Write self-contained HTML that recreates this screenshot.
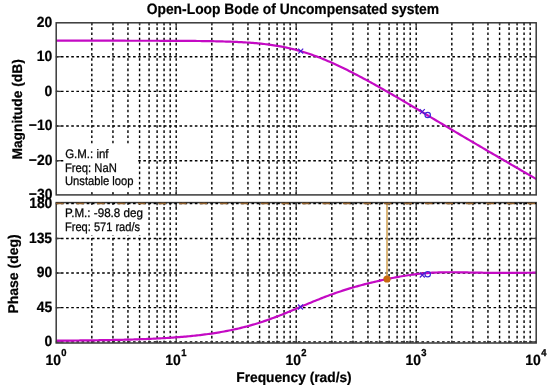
<!DOCTYPE html>
<html><head><meta charset="utf-8"><title>Open-Loop Bode of Uncompensated system</title>
<style>html,body{margin:0;padding:0;background:#fff;width:550px;height:390px;overflow:hidden}svg{display:block}text{text-rendering:geometricPrecision}</style>
</head><body>
<svg width="550" height="390" viewBox="0 0 550 390">
<g stroke="#000000" stroke-width="1.4" stroke-dasharray="2.6 2.55" fill="none">
<line x1="91.82" y1="22.20" x2="91.82" y2="194.90"/>
<line x1="112.95" y1="22.20" x2="112.95" y2="194.90"/>
<line x1="127.95" y1="22.20" x2="127.95" y2="194.90"/>
<line x1="139.58" y1="22.20" x2="139.58" y2="194.90"/>
<line x1="149.08" y1="22.20" x2="149.08" y2="194.90"/>
<line x1="157.11" y1="22.20" x2="157.11" y2="194.90"/>
<line x1="164.07" y1="22.20" x2="164.07" y2="194.90"/>
<line x1="170.21" y1="22.20" x2="170.21" y2="194.90"/>
<line x1="176.20" y1="22.20" x2="176.20" y2="194.90"/>
<line x1="211.82" y1="22.20" x2="211.82" y2="194.90"/>
<line x1="232.95" y1="22.20" x2="232.95" y2="194.90"/>
<line x1="247.95" y1="22.20" x2="247.95" y2="194.90"/>
<line x1="259.58" y1="22.20" x2="259.58" y2="194.90"/>
<line x1="269.08" y1="22.20" x2="269.08" y2="194.90"/>
<line x1="277.11" y1="22.20" x2="277.11" y2="194.90"/>
<line x1="284.07" y1="22.20" x2="284.07" y2="194.90"/>
<line x1="290.21" y1="22.20" x2="290.21" y2="194.90"/>
<line x1="296.20" y1="22.20" x2="296.20" y2="194.90"/>
<line x1="331.82" y1="22.20" x2="331.82" y2="194.90"/>
<line x1="352.95" y1="22.20" x2="352.95" y2="194.90"/>
<line x1="367.95" y1="22.20" x2="367.95" y2="194.90"/>
<line x1="379.58" y1="22.20" x2="379.58" y2="194.90"/>
<line x1="389.08" y1="22.20" x2="389.08" y2="194.90"/>
<line x1="397.11" y1="22.20" x2="397.11" y2="194.90"/>
<line x1="404.07" y1="22.20" x2="404.07" y2="194.90"/>
<line x1="410.21" y1="22.20" x2="410.21" y2="194.90"/>
<line x1="416.20" y1="22.20" x2="416.20" y2="194.90"/>
<line x1="451.82" y1="22.20" x2="451.82" y2="194.90"/>
<line x1="472.95" y1="22.20" x2="472.95" y2="194.90"/>
<line x1="487.95" y1="22.20" x2="487.95" y2="194.90"/>
<line x1="499.58" y1="22.20" x2="499.58" y2="194.90"/>
<line x1="509.08" y1="22.20" x2="509.08" y2="194.90"/>
<line x1="517.11" y1="22.20" x2="517.11" y2="194.90"/>
<line x1="524.07" y1="22.20" x2="524.07" y2="194.90"/>
<line x1="530.21" y1="22.20" x2="530.21" y2="194.90"/>
<line x1="55.8" y1="56.75" x2="536.20" y2="56.75"/>
<line x1="55.8" y1="91.40" x2="536.20" y2="91.40"/>
<line x1="55.8" y1="126.05" x2="536.20" y2="126.05"/>
<line x1="55.8" y1="160.70" x2="536.20" y2="160.70"/>
<line x1="91.82" y1="201.90" x2="91.82" y2="343.00"/>
<line x1="112.95" y1="201.90" x2="112.95" y2="343.00"/>
<line x1="127.95" y1="201.90" x2="127.95" y2="343.00"/>
<line x1="139.58" y1="201.90" x2="139.58" y2="343.00"/>
<line x1="149.08" y1="201.90" x2="149.08" y2="343.00"/>
<line x1="157.11" y1="201.90" x2="157.11" y2="343.00"/>
<line x1="164.07" y1="201.90" x2="164.07" y2="343.00"/>
<line x1="170.21" y1="201.90" x2="170.21" y2="343.00"/>
<line x1="176.20" y1="201.90" x2="176.20" y2="343.00"/>
<line x1="211.82" y1="201.90" x2="211.82" y2="343.00"/>
<line x1="232.95" y1="201.90" x2="232.95" y2="343.00"/>
<line x1="247.95" y1="201.90" x2="247.95" y2="343.00"/>
<line x1="259.58" y1="201.90" x2="259.58" y2="343.00"/>
<line x1="269.08" y1="201.90" x2="269.08" y2="343.00"/>
<line x1="277.11" y1="201.90" x2="277.11" y2="343.00"/>
<line x1="284.07" y1="201.90" x2="284.07" y2="343.00"/>
<line x1="290.21" y1="201.90" x2="290.21" y2="343.00"/>
<line x1="296.20" y1="201.90" x2="296.20" y2="343.00"/>
<line x1="331.82" y1="201.90" x2="331.82" y2="343.00"/>
<line x1="352.95" y1="201.90" x2="352.95" y2="343.00"/>
<line x1="367.95" y1="201.90" x2="367.95" y2="343.00"/>
<line x1="379.58" y1="201.90" x2="379.58" y2="343.00"/>
<line x1="389.08" y1="201.90" x2="389.08" y2="343.00"/>
<line x1="397.11" y1="201.90" x2="397.11" y2="343.00"/>
<line x1="404.07" y1="201.90" x2="404.07" y2="343.00"/>
<line x1="410.21" y1="201.90" x2="410.21" y2="343.00"/>
<line x1="416.20" y1="201.90" x2="416.20" y2="343.00"/>
<line x1="451.82" y1="201.90" x2="451.82" y2="343.00"/>
<line x1="472.95" y1="201.90" x2="472.95" y2="343.00"/>
<line x1="487.95" y1="201.90" x2="487.95" y2="343.00"/>
<line x1="499.58" y1="201.90" x2="499.58" y2="343.00"/>
<line x1="509.08" y1="201.90" x2="509.08" y2="343.00"/>
<line x1="517.11" y1="201.90" x2="517.11" y2="343.00"/>
<line x1="524.07" y1="201.90" x2="524.07" y2="343.00"/>
<line x1="530.21" y1="201.90" x2="530.21" y2="343.00"/>
<line x1="55.8" y1="238.44" x2="536.20" y2="238.44"/>
<line x1="55.8" y1="273.04" x2="536.20" y2="273.04"/>
<line x1="55.8" y1="307.64" x2="536.20" y2="307.64"/>
<line x1="55.8" y1="341.90" x2="536.20" y2="341.90"/>
</g>
<g stroke="#3a3a3a" stroke-width="1.3" fill="none">
<line x1="91.82" y1="22.80" x2="91.82" y2="25.40"/>
<line x1="91.82" y1="194.90" x2="91.82" y2="192.30"/>
<line x1="112.95" y1="22.80" x2="112.95" y2="25.40"/>
<line x1="112.95" y1="194.90" x2="112.95" y2="192.30"/>
<line x1="127.95" y1="22.80" x2="127.95" y2="25.40"/>
<line x1="127.95" y1="194.90" x2="127.95" y2="192.30"/>
<line x1="139.58" y1="22.80" x2="139.58" y2="25.40"/>
<line x1="139.58" y1="194.90" x2="139.58" y2="192.30"/>
<line x1="149.08" y1="22.80" x2="149.08" y2="25.40"/>
<line x1="149.08" y1="194.90" x2="149.08" y2="192.30"/>
<line x1="157.11" y1="22.80" x2="157.11" y2="25.40"/>
<line x1="157.11" y1="194.90" x2="157.11" y2="192.30"/>
<line x1="164.07" y1="22.80" x2="164.07" y2="25.40"/>
<line x1="164.07" y1="194.90" x2="164.07" y2="192.30"/>
<line x1="170.21" y1="22.80" x2="170.21" y2="25.40"/>
<line x1="170.21" y1="194.90" x2="170.21" y2="192.30"/>
<line x1="176.20" y1="22.80" x2="176.20" y2="27.60"/>
<line x1="176.20" y1="194.90" x2="176.20" y2="190.10"/>
<line x1="211.82" y1="22.80" x2="211.82" y2="25.40"/>
<line x1="211.82" y1="194.90" x2="211.82" y2="192.30"/>
<line x1="232.95" y1="22.80" x2="232.95" y2="25.40"/>
<line x1="232.95" y1="194.90" x2="232.95" y2="192.30"/>
<line x1="247.95" y1="22.80" x2="247.95" y2="25.40"/>
<line x1="247.95" y1="194.90" x2="247.95" y2="192.30"/>
<line x1="259.58" y1="22.80" x2="259.58" y2="25.40"/>
<line x1="259.58" y1="194.90" x2="259.58" y2="192.30"/>
<line x1="269.08" y1="22.80" x2="269.08" y2="25.40"/>
<line x1="269.08" y1="194.90" x2="269.08" y2="192.30"/>
<line x1="277.11" y1="22.80" x2="277.11" y2="25.40"/>
<line x1="277.11" y1="194.90" x2="277.11" y2="192.30"/>
<line x1="284.07" y1="22.80" x2="284.07" y2="25.40"/>
<line x1="284.07" y1="194.90" x2="284.07" y2="192.30"/>
<line x1="290.21" y1="22.80" x2="290.21" y2="25.40"/>
<line x1="290.21" y1="194.90" x2="290.21" y2="192.30"/>
<line x1="296.20" y1="22.80" x2="296.20" y2="27.60"/>
<line x1="296.20" y1="194.90" x2="296.20" y2="190.10"/>
<line x1="331.82" y1="22.80" x2="331.82" y2="25.40"/>
<line x1="331.82" y1="194.90" x2="331.82" y2="192.30"/>
<line x1="352.95" y1="22.80" x2="352.95" y2="25.40"/>
<line x1="352.95" y1="194.90" x2="352.95" y2="192.30"/>
<line x1="367.95" y1="22.80" x2="367.95" y2="25.40"/>
<line x1="367.95" y1="194.90" x2="367.95" y2="192.30"/>
<line x1="379.58" y1="22.80" x2="379.58" y2="25.40"/>
<line x1="379.58" y1="194.90" x2="379.58" y2="192.30"/>
<line x1="389.08" y1="22.80" x2="389.08" y2="25.40"/>
<line x1="389.08" y1="194.90" x2="389.08" y2="192.30"/>
<line x1="397.11" y1="22.80" x2="397.11" y2="25.40"/>
<line x1="397.11" y1="194.90" x2="397.11" y2="192.30"/>
<line x1="404.07" y1="22.80" x2="404.07" y2="25.40"/>
<line x1="404.07" y1="194.90" x2="404.07" y2="192.30"/>
<line x1="410.21" y1="22.80" x2="410.21" y2="25.40"/>
<line x1="410.21" y1="194.90" x2="410.21" y2="192.30"/>
<line x1="416.20" y1="22.80" x2="416.20" y2="27.60"/>
<line x1="416.20" y1="194.90" x2="416.20" y2="190.10"/>
<line x1="451.82" y1="22.80" x2="451.82" y2="25.40"/>
<line x1="451.82" y1="194.90" x2="451.82" y2="192.30"/>
<line x1="472.95" y1="22.80" x2="472.95" y2="25.40"/>
<line x1="472.95" y1="194.90" x2="472.95" y2="192.30"/>
<line x1="487.95" y1="22.80" x2="487.95" y2="25.40"/>
<line x1="487.95" y1="194.90" x2="487.95" y2="192.30"/>
<line x1="499.58" y1="22.80" x2="499.58" y2="25.40"/>
<line x1="499.58" y1="194.90" x2="499.58" y2="192.30"/>
<line x1="509.08" y1="22.80" x2="509.08" y2="25.40"/>
<line x1="509.08" y1="194.90" x2="509.08" y2="192.30"/>
<line x1="517.11" y1="22.80" x2="517.11" y2="25.40"/>
<line x1="517.11" y1="194.90" x2="517.11" y2="192.30"/>
<line x1="524.07" y1="22.80" x2="524.07" y2="25.40"/>
<line x1="524.07" y1="194.90" x2="524.07" y2="192.30"/>
<line x1="530.21" y1="22.80" x2="530.21" y2="25.40"/>
<line x1="530.21" y1="194.90" x2="530.21" y2="192.30"/>
<line x1="56.20" y1="56.75" x2="61.00" y2="56.75"/>
<line x1="536.20" y1="56.75" x2="531.40" y2="56.75"/>
<line x1="56.20" y1="91.40" x2="61.00" y2="91.40"/>
<line x1="536.20" y1="91.40" x2="531.40" y2="91.40"/>
<line x1="56.20" y1="126.05" x2="61.00" y2="126.05"/>
<line x1="536.20" y1="126.05" x2="531.40" y2="126.05"/>
<line x1="56.20" y1="160.70" x2="61.00" y2="160.70"/>
<line x1="536.20" y1="160.70" x2="531.40" y2="160.70"/>
<line x1="91.82" y1="202.60" x2="91.82" y2="205.20"/>
<line x1="91.82" y1="343.00" x2="91.82" y2="340.40"/>
<line x1="112.95" y1="202.60" x2="112.95" y2="205.20"/>
<line x1="112.95" y1="343.00" x2="112.95" y2="340.40"/>
<line x1="127.95" y1="202.60" x2="127.95" y2="205.20"/>
<line x1="127.95" y1="343.00" x2="127.95" y2="340.40"/>
<line x1="139.58" y1="202.60" x2="139.58" y2="205.20"/>
<line x1="139.58" y1="343.00" x2="139.58" y2="340.40"/>
<line x1="149.08" y1="202.60" x2="149.08" y2="205.20"/>
<line x1="149.08" y1="343.00" x2="149.08" y2="340.40"/>
<line x1="157.11" y1="202.60" x2="157.11" y2="205.20"/>
<line x1="157.11" y1="343.00" x2="157.11" y2="340.40"/>
<line x1="164.07" y1="202.60" x2="164.07" y2="205.20"/>
<line x1="164.07" y1="343.00" x2="164.07" y2="340.40"/>
<line x1="170.21" y1="202.60" x2="170.21" y2="205.20"/>
<line x1="170.21" y1="343.00" x2="170.21" y2="340.40"/>
<line x1="176.20" y1="202.60" x2="176.20" y2="207.40"/>
<line x1="176.20" y1="343.00" x2="176.20" y2="338.20"/>
<line x1="211.82" y1="202.60" x2="211.82" y2="205.20"/>
<line x1="211.82" y1="343.00" x2="211.82" y2="340.40"/>
<line x1="232.95" y1="202.60" x2="232.95" y2="205.20"/>
<line x1="232.95" y1="343.00" x2="232.95" y2="340.40"/>
<line x1="247.95" y1="202.60" x2="247.95" y2="205.20"/>
<line x1="247.95" y1="343.00" x2="247.95" y2="340.40"/>
<line x1="259.58" y1="202.60" x2="259.58" y2="205.20"/>
<line x1="259.58" y1="343.00" x2="259.58" y2="340.40"/>
<line x1="269.08" y1="202.60" x2="269.08" y2="205.20"/>
<line x1="269.08" y1="343.00" x2="269.08" y2="340.40"/>
<line x1="277.11" y1="202.60" x2="277.11" y2="205.20"/>
<line x1="277.11" y1="343.00" x2="277.11" y2="340.40"/>
<line x1="284.07" y1="202.60" x2="284.07" y2="205.20"/>
<line x1="284.07" y1="343.00" x2="284.07" y2="340.40"/>
<line x1="290.21" y1="202.60" x2="290.21" y2="205.20"/>
<line x1="290.21" y1="343.00" x2="290.21" y2="340.40"/>
<line x1="296.20" y1="202.60" x2="296.20" y2="207.40"/>
<line x1="296.20" y1="343.00" x2="296.20" y2="338.20"/>
<line x1="331.82" y1="202.60" x2="331.82" y2="205.20"/>
<line x1="331.82" y1="343.00" x2="331.82" y2="340.40"/>
<line x1="352.95" y1="202.60" x2="352.95" y2="205.20"/>
<line x1="352.95" y1="343.00" x2="352.95" y2="340.40"/>
<line x1="367.95" y1="202.60" x2="367.95" y2="205.20"/>
<line x1="367.95" y1="343.00" x2="367.95" y2="340.40"/>
<line x1="379.58" y1="202.60" x2="379.58" y2="205.20"/>
<line x1="379.58" y1="343.00" x2="379.58" y2="340.40"/>
<line x1="389.08" y1="202.60" x2="389.08" y2="205.20"/>
<line x1="389.08" y1="343.00" x2="389.08" y2="340.40"/>
<line x1="397.11" y1="202.60" x2="397.11" y2="205.20"/>
<line x1="397.11" y1="343.00" x2="397.11" y2="340.40"/>
<line x1="404.07" y1="202.60" x2="404.07" y2="205.20"/>
<line x1="404.07" y1="343.00" x2="404.07" y2="340.40"/>
<line x1="410.21" y1="202.60" x2="410.21" y2="205.20"/>
<line x1="410.21" y1="343.00" x2="410.21" y2="340.40"/>
<line x1="416.20" y1="202.60" x2="416.20" y2="207.40"/>
<line x1="416.20" y1="343.00" x2="416.20" y2="338.20"/>
<line x1="451.82" y1="202.60" x2="451.82" y2="205.20"/>
<line x1="451.82" y1="343.00" x2="451.82" y2="340.40"/>
<line x1="472.95" y1="202.60" x2="472.95" y2="205.20"/>
<line x1="472.95" y1="343.00" x2="472.95" y2="340.40"/>
<line x1="487.95" y1="202.60" x2="487.95" y2="205.20"/>
<line x1="487.95" y1="343.00" x2="487.95" y2="340.40"/>
<line x1="499.58" y1="202.60" x2="499.58" y2="205.20"/>
<line x1="499.58" y1="343.00" x2="499.58" y2="340.40"/>
<line x1="509.08" y1="202.60" x2="509.08" y2="205.20"/>
<line x1="509.08" y1="343.00" x2="509.08" y2="340.40"/>
<line x1="517.11" y1="202.60" x2="517.11" y2="205.20"/>
<line x1="517.11" y1="343.00" x2="517.11" y2="340.40"/>
<line x1="524.07" y1="202.60" x2="524.07" y2="205.20"/>
<line x1="524.07" y1="343.00" x2="524.07" y2="340.40"/>
<line x1="530.21" y1="202.60" x2="530.21" y2="205.20"/>
<line x1="530.21" y1="343.00" x2="530.21" y2="340.40"/>
<line x1="56.20" y1="238.44" x2="61.00" y2="238.44"/>
<line x1="536.20" y1="238.44" x2="531.40" y2="238.44"/>
<line x1="56.20" y1="273.04" x2="61.00" y2="273.04"/>
<line x1="536.20" y1="273.04" x2="531.40" y2="273.04"/>
<line x1="56.20" y1="307.64" x2="61.00" y2="307.64"/>
<line x1="536.20" y1="307.64" x2="531.40" y2="307.64"/>
<line x1="56.20" y1="341.90" x2="61.00" y2="341.90"/>
<line x1="536.20" y1="341.90" x2="531.40" y2="341.90"/>
</g>
<rect x="63.5" y="144" width="74" height="47.5" fill="#fff"/>
<rect x="63.5" y="205" width="82" height="30" fill="#fff"/>
<polyline fill="none" stroke="#c40ac4" stroke-width="2.2" stroke-linejoin="round" points="56.20,40.71 57.80,40.71 59.40,40.71 61.00,40.71 62.60,40.71 64.20,40.71 65.80,40.71 67.40,40.71 69.00,40.71 70.60,40.71 72.20,40.71 73.80,40.71 75.40,40.71 77.00,40.71 78.60,40.71 80.20,40.71 81.80,40.71 83.40,40.71 85.00,40.71 86.60,40.71 88.20,40.71 89.80,40.71 91.40,40.71 93.00,40.71 94.60,40.71 96.20,40.71 97.80,40.71 99.40,40.71 101.00,40.71 102.60,40.71 104.20,40.72 105.80,40.72 107.40,40.72 109.00,40.72 110.60,40.72 112.20,40.72 113.80,40.72 115.40,40.72 117.00,40.72 118.60,40.72 120.20,40.72 121.80,40.72 123.40,40.72 125.00,40.72 126.60,40.73 128.20,40.73 129.80,40.73 131.40,40.73 133.00,40.73 134.60,40.73 136.20,40.73 137.80,40.74 139.40,40.74 141.00,40.74 142.60,40.74 144.20,40.74 145.80,40.75 147.40,40.75 149.00,40.75 150.60,40.75 152.20,40.76 153.80,40.76 155.40,40.76 157.00,40.77 158.60,40.77 160.20,40.78 161.80,40.78 163.40,40.78 165.00,40.79 166.60,40.79 168.20,40.80 169.80,40.81 171.40,40.81 173.00,40.82 174.60,40.83 176.20,40.83 177.80,40.84 179.40,40.85 181.00,40.86 182.60,40.87 184.20,40.88 185.80,40.89 187.40,40.90 189.00,40.91 190.60,40.93 192.20,40.94 193.80,40.95 195.40,40.97 197.00,40.99 198.60,41.00 200.20,41.02 201.80,41.04 203.40,41.06 205.00,41.09 206.60,41.11 208.20,41.13 209.80,41.16 211.40,41.19 213.00,41.22 214.60,41.25 216.20,41.28 217.80,41.32 219.40,41.36 221.00,41.40 222.60,41.44 224.20,41.49 225.80,41.53 227.40,41.59 229.00,41.64 230.60,41.70 232.20,41.76 233.80,41.82 235.40,41.89 237.00,41.96 238.60,42.04 240.20,42.12 241.80,42.20 243.40,42.29 245.00,42.39 246.60,42.49 248.20,42.59 249.80,42.71 251.40,42.82 253.00,42.95 254.60,43.08 256.20,43.22 257.80,43.36 259.40,43.52 261.00,43.68 262.60,43.85 264.20,44.03 265.80,44.22 267.40,44.41 269.00,44.62 270.60,44.84 272.20,45.06 273.80,45.30 275.40,45.55 277.00,45.81 278.60,46.08 280.20,46.36 281.80,46.66 283.40,46.97 285.00,47.29 286.60,47.62 288.20,47.97 289.80,48.33 291.40,48.71 293.00,49.10 294.60,49.50 296.20,49.91 297.80,50.34 299.40,50.79 301.00,51.25 302.60,51.72 304.20,52.21 305.80,52.71 307.40,53.23 309.00,53.75 310.60,54.30 312.20,54.86 313.80,55.43 315.40,56.01 317.00,56.61 318.60,57.22 320.20,57.84 321.80,58.48 323.40,59.13 325.00,59.79 326.60,60.46 328.20,61.14 329.80,61.84 331.40,62.54 333.00,63.26 334.60,63.98 336.20,64.72 337.80,65.46 339.40,66.22 341.00,66.98 342.60,67.75 344.20,68.53 345.80,69.32 347.40,70.11 349.00,70.92 350.60,71.73 352.20,72.54 353.80,73.37 355.40,74.19 357.00,75.03 358.60,75.87 360.20,76.72 361.80,77.57 363.40,78.42 365.00,79.29 366.60,80.15 368.20,81.02 369.80,81.90 371.40,82.78 373.00,83.66 374.60,84.55 376.20,85.44 377.80,86.33 379.40,87.23 381.00,88.13 382.60,89.03 384.20,89.94 385.80,90.85 387.40,91.76 389.00,92.68 390.60,93.60 392.20,94.52 393.80,95.44 395.40,96.37 397.00,97.30 398.60,98.23 400.20,99.16 401.80,100.09 403.40,101.03 405.00,101.97 406.60,102.91 408.20,103.85 409.80,104.79 411.40,105.73 413.00,106.68 414.60,107.63 416.20,108.57 417.80,109.52 419.40,110.47 421.00,111.42 422.60,112.37 424.20,113.32 425.80,114.28 427.40,115.23 429.00,116.18 430.60,117.13 432.20,118.09 433.80,119.04 435.40,119.99 437.00,120.95 438.60,121.90 440.20,122.85 441.80,123.80 443.40,124.76 445.00,125.71 446.60,126.66 448.20,127.61 449.80,128.56 451.40,129.51 453.00,130.46 454.60,131.40 456.20,132.35 457.80,133.30 459.40,134.24 461.00,135.19 462.60,136.13 464.20,137.08 465.80,138.02 467.40,138.96 469.00,139.90 470.60,140.84 472.20,141.78 473.80,142.72 475.40,143.66 477.00,144.60 478.60,145.54 480.20,146.48 481.80,147.41 483.40,148.35 485.00,149.28 486.60,150.22 488.20,151.15 489.80,152.08 491.40,153.02 493.00,153.95 494.60,154.88 496.20,155.81 497.80,156.75 499.40,157.68 501.00,158.61 502.60,159.54 504.20,160.47 505.80,161.40 507.40,162.33 509.00,163.26 510.60,164.18 512.20,165.11 513.80,166.04 515.40,166.97 517.00,167.90 518.60,168.82 520.20,169.75 521.80,170.68 523.40,171.61 525.00,172.53 526.60,173.46 528.20,174.39 529.80,175.31 531.40,176.24 533.00,177.16 534.60,178.09 536.20,179.02"/>
<polyline fill="none" stroke="#c40ac4" stroke-width="2.2" stroke-linejoin="round" points="56.20,340.67 57.80,340.66 59.40,340.65 61.00,340.64 62.60,340.62 64.20,340.61 65.80,340.60 67.40,340.59 69.00,340.57 70.60,340.56 72.20,340.55 73.80,340.53 75.40,340.52 77.00,340.50 78.60,340.48 80.20,340.47 81.80,340.45 83.40,340.43 85.00,340.42 86.60,340.40 88.20,340.38 89.80,340.36 91.40,340.34 93.00,340.32 94.60,340.29 96.20,340.27 97.80,340.25 99.40,340.22 101.00,340.20 102.60,340.17 104.20,340.15 105.80,340.12 107.40,340.09 109.00,340.06 110.60,340.03 112.20,340.00 113.80,339.96 115.40,339.93 117.00,339.90 118.60,339.86 120.20,339.82 121.80,339.78 123.40,339.74 125.00,339.70 126.60,339.66 128.20,339.62 129.80,339.57 131.40,339.53 133.00,339.48 134.60,339.43 136.20,339.38 137.80,339.32 139.40,339.27 141.00,339.21 142.60,339.15 144.20,339.09 145.80,339.03 147.40,338.96 149.00,338.89 150.60,338.83 152.20,338.75 153.80,338.68 155.40,338.60 157.00,338.52 158.60,338.44 160.20,338.36 161.80,338.27 163.40,338.18 165.00,338.09 166.60,337.99 168.20,337.89 169.80,337.79 171.40,337.68 173.00,337.57 174.60,337.46 176.20,337.34 177.80,337.22 179.40,337.10 181.00,336.97 182.60,336.83 184.20,336.70 185.80,336.55 187.40,336.41 189.00,336.26 190.60,336.10 192.20,335.94 193.80,335.78 195.40,335.60 197.00,335.43 198.60,335.25 200.20,335.06 201.80,334.87 203.40,334.67 205.00,334.46 206.60,334.25 208.20,334.03 209.80,333.81 211.40,333.58 213.00,333.34 214.60,333.09 216.20,332.84 217.80,332.58 219.40,332.31 221.00,332.04 222.60,331.76 224.20,331.46 225.80,331.17 227.40,330.86 229.00,330.54 230.60,330.22 232.20,329.88 233.80,329.54 235.40,329.19 237.00,328.82 238.60,328.45 240.20,328.07 241.80,327.68 243.40,327.28 245.00,326.87 246.60,326.45 248.20,326.02 249.80,325.58 251.40,325.13 253.00,324.67 254.60,324.19 256.20,323.71 257.80,323.22 259.40,322.72 261.00,322.20 262.60,321.68 264.20,321.15 265.80,320.60 267.40,320.05 269.00,319.48 270.60,318.91 272.20,318.33 273.80,317.74 275.40,317.14 277.00,316.53 278.60,315.92 280.20,315.29 281.80,314.66 283.40,314.02 285.00,313.38 286.60,312.73 288.20,312.07 289.80,311.42 291.40,310.75 293.00,310.08 294.60,309.41 296.20,308.74 297.80,308.06 299.40,307.39 301.00,306.71 302.60,306.04 304.20,305.36 305.80,304.68 307.40,304.01 309.00,303.34 310.60,302.67 312.20,302.01 313.80,301.35 315.40,300.70 317.00,300.05 318.60,299.40 320.20,298.76 321.80,298.13 323.40,297.51 325.00,296.89 326.60,296.28 328.20,295.68 329.80,295.09 331.40,294.50 333.00,293.93 334.60,293.36 336.20,292.80 337.80,292.25 339.40,291.71 341.00,291.17 342.60,290.65 344.20,290.14 345.80,289.63 347.40,289.13 349.00,288.64 350.60,288.16 352.20,287.69 353.80,287.22 355.40,286.77 357.00,286.32 358.60,285.88 360.20,285.44 361.80,285.01 363.40,284.59 365.00,284.18 366.60,283.77 368.20,283.37 369.80,282.97 371.40,282.59 373.00,282.20 374.60,281.82 376.20,281.45 377.80,281.08 379.40,280.72 381.00,280.37 382.60,280.02 384.20,279.67 385.80,279.33 387.40,278.99 389.00,278.67 390.60,278.34 392.20,278.02 393.80,277.71 395.40,277.41 397.00,277.11 398.60,276.82 400.20,276.53 401.80,276.25 403.40,275.99 405.00,275.72 406.60,275.47 408.20,275.22 409.80,274.99 411.40,274.76 413.00,274.54 414.60,274.33 416.20,274.13 417.80,273.95 419.40,273.77 421.00,273.60 422.60,273.44 424.20,273.29 425.80,273.16 427.40,273.03 429.00,272.91 430.60,272.81 432.20,272.71 433.80,272.62 435.40,272.55 437.00,272.48 438.60,272.42 440.20,272.38 441.80,272.34 443.40,272.30 445.00,272.28 446.60,272.26 448.20,272.25 449.80,272.25 451.40,272.25 453.00,272.25 454.60,272.26 456.20,272.28 457.80,272.30 459.40,272.32 461.00,272.34 462.60,272.37 464.20,272.40 465.80,272.43 467.40,272.46 469.00,272.49 470.60,272.52 472.20,272.55 473.80,272.58 475.40,272.61 477.00,272.64 478.60,272.67 480.20,272.69 481.80,272.72 483.40,272.74 485.00,272.76 486.60,272.78 488.20,272.80 489.80,272.82 491.40,272.83 493.00,272.84 494.60,272.85 496.20,272.86 497.80,272.87 499.40,272.87 501.00,272.88 502.60,272.88 504.20,272.88 505.80,272.88 507.40,272.87 509.00,272.87 510.60,272.86 512.20,272.86 513.80,272.85 515.40,272.84 517.00,272.83 518.60,272.82 520.20,272.81 521.80,272.80 523.40,272.79 525.00,272.78 526.60,272.77 528.20,272.76 529.80,272.75 531.40,272.74 533.00,272.72 534.60,272.71 536.20,272.70"/>
<path d="M298.20,48.70L303.20,53.70M298.20,53.70L303.20,48.70" stroke="#4a1ad0" stroke-width="1.2" fill="none"/>
<path d="M419.80,109.20L424.80,114.20M419.80,114.20L424.80,109.20" stroke="#4a1ad0" stroke-width="1.2" fill="none"/>
<path d="M298.00,304.50L303.00,309.50M298.00,309.50L303.00,304.50" stroke="#4a1ad0" stroke-width="1.2" fill="none"/>
<path d="M419.80,272.50L424.80,277.50M419.80,277.50L424.80,272.50" stroke="#4a1ad0" stroke-width="1.2" fill="none"/>
<circle cx="427.70" cy="115.00" r="2.7" stroke="#3a2ad8" stroke-width="1.2" fill="none"/>
<circle cx="427.70" cy="274.20" r="2.7" stroke="#3a2ad8" stroke-width="1.2" fill="none"/>
<line x1="387.00" y1="203.83" x2="387.00" y2="279.01" stroke="#d4a55a" stroke-width="1.6"/>
<circle cx="387.00" cy="279.01" r="3.6" fill="#c86a10"/>
<rect x="56.20" y="22.80" width="480.00" height="172.10" fill="none" stroke="#3a3a3a" stroke-width="1.5"/>
<rect x="56.20" y="202.60" width="480.00" height="140.40" fill="none" stroke="#3a3a3a" stroke-width="1.5"/>
<line x1="55.8" y1="203.50" x2="536.20" y2="203.50" stroke="#000" stroke-width="1.4" stroke-dasharray="2.6 2.55"/>
<line x1="56" y1="203.50" x2="535.40" y2="203.50" stroke="#8f5f2c" stroke-width="1.4" stroke-dasharray="7.5 13"/>
<g fill="#000">
<text transform="translate(146.68,13.50) scale(0.9251,1)" font-family="&quot;Liberation Sans&quot;, Arial, sans-serif" font-weight="bold" font-size="14.98" stroke="#000" stroke-width="0.22">Open-Loop Bode of Uncompensated system</text>
<text transform="translate(36.84,27.00) scale(0.9400,1)" font-family="&quot;Liberation Sans&quot;, Arial, sans-serif" font-weight="bold" font-size="14.80" stroke="#000" stroke-width="0.22">20</text>
<text transform="translate(36.84,61.00) scale(0.9400,1)" font-family="&quot;Liberation Sans&quot;, Arial, sans-serif" font-weight="bold" font-size="14.80" stroke="#000" stroke-width="0.22">10</text>
<text transform="translate(44.59,96.00) scale(0.9400,1)" font-family="&quot;Liberation Sans&quot;, Arial, sans-serif" font-weight="bold" font-size="14.80" stroke="#000" stroke-width="0.22">0</text>
<text transform="translate(28.84,130.00) scale(0.9400,1)" font-family="&quot;Liberation Sans&quot;, Arial, sans-serif" font-weight="bold" font-size="14.80" stroke="#000" stroke-width="0.22">−10</text>
<text transform="translate(28.84,165.00) scale(0.9400,1)" font-family="&quot;Liberation Sans&quot;, Arial, sans-serif" font-weight="bold" font-size="14.80" stroke="#000" stroke-width="0.22">−20</text>
<text transform="translate(28.84,199.00) scale(0.9400,1)" font-family="&quot;Liberation Sans&quot;, Arial, sans-serif" font-weight="bold" font-size="14.80" stroke="#000" stroke-width="0.22">−30</text>
<text transform="translate(29.14,208.00) scale(0.9400,1)" font-family="&quot;Liberation Sans&quot;, Arial, sans-serif" font-weight="bold" font-size="14.80" stroke="#000" stroke-width="0.22">180</text>
<text transform="translate(28.90,243.00) scale(0.9400,1)" font-family="&quot;Liberation Sans&quot;, Arial, sans-serif" font-weight="bold" font-size="14.80" stroke="#000" stroke-width="0.22">135</text>
<text transform="translate(36.84,277.00) scale(0.9400,1)" font-family="&quot;Liberation Sans&quot;, Arial, sans-serif" font-weight="bold" font-size="14.80" stroke="#000" stroke-width="0.22">90</text>
<text transform="translate(36.66,312.00) scale(0.9400,1)" font-family="&quot;Liberation Sans&quot;, Arial, sans-serif" font-weight="bold" font-size="14.80" stroke="#000" stroke-width="0.22">45</text>
<text transform="translate(44.59,346.00) scale(0.9400,1)" font-family="&quot;Liberation Sans&quot;, Arial, sans-serif" font-weight="bold" font-size="14.80" stroke="#000" stroke-width="0.22">0</text>
<text transform="translate(236.22,381.80) scale(0.9764,1)" font-family="&quot;Liberation Sans&quot;, Arial, sans-serif" font-weight="bold" font-size="14.10" stroke="#000" stroke-width="0.22">Frequency (rad/s)</text>
<text transform="translate(21.70,159.59) rotate(-90) scale(0.9893,1)" font-family="&quot;Liberation Sans&quot;, Arial, sans-serif" font-weight="bold" font-size="13.95" stroke="#000" stroke-width="0.22">Magnitude (dB)</text>
<text transform="translate(18.10,313.59) rotate(-90) scale(0.9917,1)" font-family="&quot;Liberation Sans&quot;, Arial, sans-serif" font-weight="bold" font-size="14.10" stroke="#000" stroke-width="0.22">Phase (deg)</text>
<text transform="translate(65.17,157.80) scale(0.9259,1)" font-family="&quot;Liberation Sans&quot;, Arial, sans-serif" font-weight="normal" font-size="12.40" stroke="#111" stroke-width="0.28">G.M.: inf</text>
<text transform="translate(64.98,171.50) scale(0.9058,1)" font-family="&quot;Liberation Sans&quot;, Arial, sans-serif" font-weight="normal" font-size="12.40" stroke="#111" stroke-width="0.28">Freq: NaN</text>
<text transform="translate(65.00,185.40) scale(0.9040,1)" font-family="&quot;Liberation Sans&quot;, Arial, sans-serif" font-weight="normal" font-size="12.40" stroke="#111" stroke-width="0.28">Unstable loop</text>
<text transform="translate(64.94,216.50) scale(0.9386,1)" font-family="&quot;Liberation Sans&quot;, Arial, sans-serif" font-weight="normal" font-size="12.40" stroke="#111" stroke-width="0.28">P.M.: -98.8 deg</text>
<text transform="translate(64.99,230.50) scale(0.8932,1)" font-family="&quot;Liberation Sans&quot;, Arial, sans-serif" font-weight="normal" font-size="12.40" stroke="#111" stroke-width="0.28">Freq: 571 rad/s</text>
<text transform="translate(45.44,365) scale(0.94,1)" font-family="&quot;Liberation Sans&quot;, Arial, sans-serif" font-weight="bold" font-size="14.8" stroke="#000" stroke-width="0.22">10</text>
<text transform="translate(61.32,356) scale(0.94,1)" font-family="&quot;Liberation Sans&quot;, Arial, sans-serif" font-weight="bold" font-size="10.0" stroke="#000" stroke-width="0.3">0</text>
<text transform="translate(165.31,365) scale(0.94,1)" font-family="&quot;Liberation Sans&quot;, Arial, sans-serif" font-weight="bold" font-size="14.8" stroke="#000" stroke-width="0.22">10</text>
<text transform="translate(181.19,356) scale(0.94,1)" font-family="&quot;Liberation Sans&quot;, Arial, sans-serif" font-weight="bold" font-size="10.0" stroke="#000" stroke-width="0.3">1</text>
<text transform="translate(285.44,365) scale(0.94,1)" font-family="&quot;Liberation Sans&quot;, Arial, sans-serif" font-weight="bold" font-size="14.8" stroke="#000" stroke-width="0.22">10</text>
<text transform="translate(301.32,356) scale(0.94,1)" font-family="&quot;Liberation Sans&quot;, Arial, sans-serif" font-weight="bold" font-size="10.0" stroke="#000" stroke-width="0.3">2</text>
<text transform="translate(405.45,365) scale(0.94,1)" font-family="&quot;Liberation Sans&quot;, Arial, sans-serif" font-weight="bold" font-size="14.8" stroke="#000" stroke-width="0.22">10</text>
<text transform="translate(421.32,356) scale(0.94,1)" font-family="&quot;Liberation Sans&quot;, Arial, sans-serif" font-weight="bold" font-size="10.0" stroke="#000" stroke-width="0.3">3</text>
<text transform="translate(525.32,365) scale(0.94,1)" font-family="&quot;Liberation Sans&quot;, Arial, sans-serif" font-weight="bold" font-size="14.8" stroke="#000" stroke-width="0.22">10</text>
<text transform="translate(541.20,356) scale(0.94,1)" font-family="&quot;Liberation Sans&quot;, Arial, sans-serif" font-weight="bold" font-size="10.0" stroke="#000" stroke-width="0.3">4</text>
</g>
</svg>
</body></html>
